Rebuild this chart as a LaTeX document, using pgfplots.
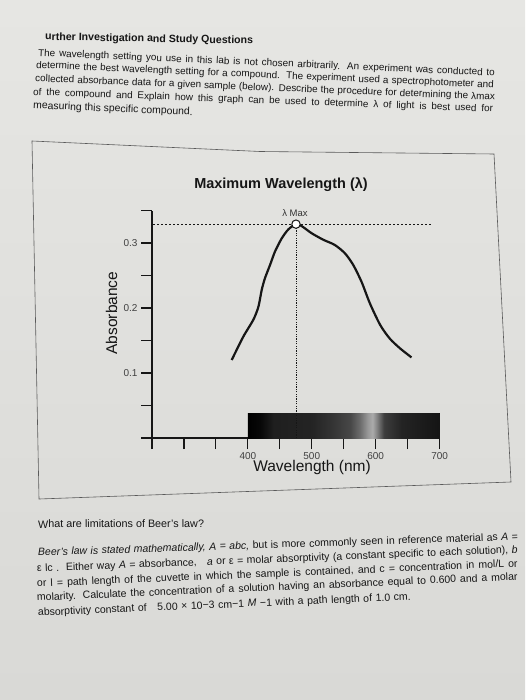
\documentclass[border=0pt]{standalone}
\usepackage{fontspec}
\setmainfont{Liberation Sans}
\usepackage{pgfplots}
\pgfplotsset{compat=1.18}
\definecolor{paper}{HTML}{E6E6E3}
\definecolor{paperdark}{HTML}{D9D9D6}
\definecolor{ink}{HTML}{161616}
\definecolor{framec}{HTML}{5A5A5A}
\pgfdeclarehorizontalshading{spectrum}{100bp}{color(0bp)=(black); color(25bp)=(black); color(28.3bp)=(black!97); color(31.7bp)=(black!88); color(41.7bp)=(black!86); color(46.7bp)=(black!80); color(51.7bp)=(black!72); color(54.2bp)=(black!58); color(56.3bp)=(black!40); color(57.5bp)=(black!33); color(58.6bp)=(black!48); color(60.5bp)=(black!76); color(65bp)=(black!86); color(75bp)=(black!92); color(100bp)=(black!92)}
\newcommand{\jline}[5]{\node[anchor=base west, inner sep=0pt, rotate=#3, text=ink] at (#1pt,-#2pt) {\makebox[#4pt][s]{#5}};}
\begin{document}
\begin{tikzpicture}
\useasboundingbox (0,0) rectangle (525pt,-700pt);
\shade[top color=paper, bottom color=paperdark] (0,0) rectangle (525pt,-700pt);
% upper paragraph
\node[anchor=base west, inner sep=0pt, rotate=-1.1, text=ink] at (45pt,-40pt) {\fontsize{10.6}{12}\selectfont\bfseries urther Investigation and Study Questions};
\begin{scope}[font=\fontsize{9.9}{11}\selectfont]
\jline{38}{56}{-2.5}{457}{The wavelength setting you use in this lab is not chosen arbitrarily. An experiment was conducted to}
\jline{36}{68}{-2.5}{458}{determine the best wavelength setting for a compound.\ \ The experiment used a spectrophotometer and}
\jline{35}{81.5}{-2.3}{460}{collected absorbance data for a given sample (below). Describe the procedure for determining the λmax}
\jline{33}{95}{-2.1}{460}{of the compound and Explain how this graph can be used to determine λ of light is best used for}
\node[anchor=base west, inner sep=0pt, rotate=-2.4, text=ink] at (33pt,-108.5pt) {\fontsize{10.4}{12}\selectfont measuring this specific compound.};
\end{scope}
% lower paragraph
\node[anchor=base west, inner sep=0pt, rotate=0.3, text=ink] at (38pt,-528pt) {\fontsize{10.8}{12}\selectfont What are limitations of Beer's law?};
\begin{scope}[font=\fontsize{10.5}{12}\selectfont]
\jline{38}{556}{1.9}{480}{\textit{Beer's law is stated mathematically, A = abc,} but is more commonly seen in reference material as \textit{A} =}
\jline{37}{572}{2.27}{481}{ε lc .\ \ Either way \textit{A} = absorbance,\ \ \ \textit{a} or ε = molar absorptivity (a constant specific to each solution), \textit{b}}
\jline{37}{587}{2.39}{481}{or l = path length of the cuvette in which the sample is contained, and c = concentration in mol/L or}
\jline{37}{601}{2.5}{481}{molarity. Calculate the concentration of a solution having an absorbance equal to 0.600 and a molar}
\jline{38}{616}{2.46}{373}{absorptivity constant of\ \ \ 5.00 × 10−3 cm−1 \textit{M} −1 with a path length of 1.0 cm.}
\end{scope}
% chart frame
\draw[framec, line width=0.6pt] (32pt,-141pt) -- (260pt,-151.5pt) -- (494pt,-154pt) -- (511pt,-482pt) -- (39pt,-499pt) -- cycle;
\node[anchor=base, text=ink] at (281pt,-189pt) {\fontsize{14.5}{16}\selectfont\bfseries Maximum Wavelength (λ)};
\node[anchor=base, text=black!80] at (295pt,-217pt) {\fontsize{9.5}{11}\selectfont λ Max};
\node[anchor=base, text=ink] at (312pt,-471pt) {\fontsize{15.5}{17}\selectfont Wavelength (nm)};
\node[anchor=base, rotate=90, text=ink] at (117pt,-313pt) {\fontsize{15.5}{17}\selectfont Absorbance};
\begin{axis}[
  at={(152pt,-438pt)}, anchor=south west,
  scale only axis, width=287.6pt, height=227.5pt,
  xmin=250, xmax=700, ymin=0, ymax=0.35,
  axis lines=left, axis line style={-, line width=2.8pt, color=ink},
  xtick={250,300,350,400,450,500,550,600,650,700},
  ytick={0,0.05,0.1,0.15,0.2,0.25,0.3,0.35},
  xticklabels={,,,\mbox{400},,\mbox{500},,\mbox{600},,\mbox{700}},
  yticklabels={,,\mbox{0.1},,\mbox{0.2},,\mbox{0.3},},
  tick align=outside, major tick length=11pt,
  tick style={line width=1.1pt, color=ink},
  ticklabel style={font=\fontsize{10}{12}\selectfont, text=black!75},
  /pgf/number format/assume math mode=true,
  clip=false,
]
\addplot[ink, line width=0.9pt, dash pattern=on 2pt off 2pt, forget plot] coordinates {(252,0.329) (690,0.329)};
\fill[shading=spectrum] (axis cs:400,0) rectangle (axis cs:700,0.038);
\addplot[ink, line width=0.9pt, dash pattern=on 1.2pt off 1.2pt, forget plot] coordinates {(475.3,0) (475.3,0.329)};
\addplot[ink, line width=2.2pt, smooth, tension=0.45] coordinates {
(374.7,0.120) (392.9,0.156) (408.6,0.182) (416.5,0.202) (421.7,0.228) (426.8,0.246) (434.6,0.266) (442.5,0.287) (452.9,0.307) (463.4,0.321) (475.3,0.329)
(484.2,0.326) (499.8,0.315) (518,0.305) (536,0.297) (552,0.284) (565,0.266) (578,0.240) (591,0.207) (607,0.174) (622,0.153) (638,0.138) (656,0.124)};
\addplot[only marks, mark=*, mark size=4.2pt, mark options={fill=white, draw=ink, line width=1pt}] coordinates {(475.3,0.329)};
\end{axis}
\end{tikzpicture}
\end{document}
